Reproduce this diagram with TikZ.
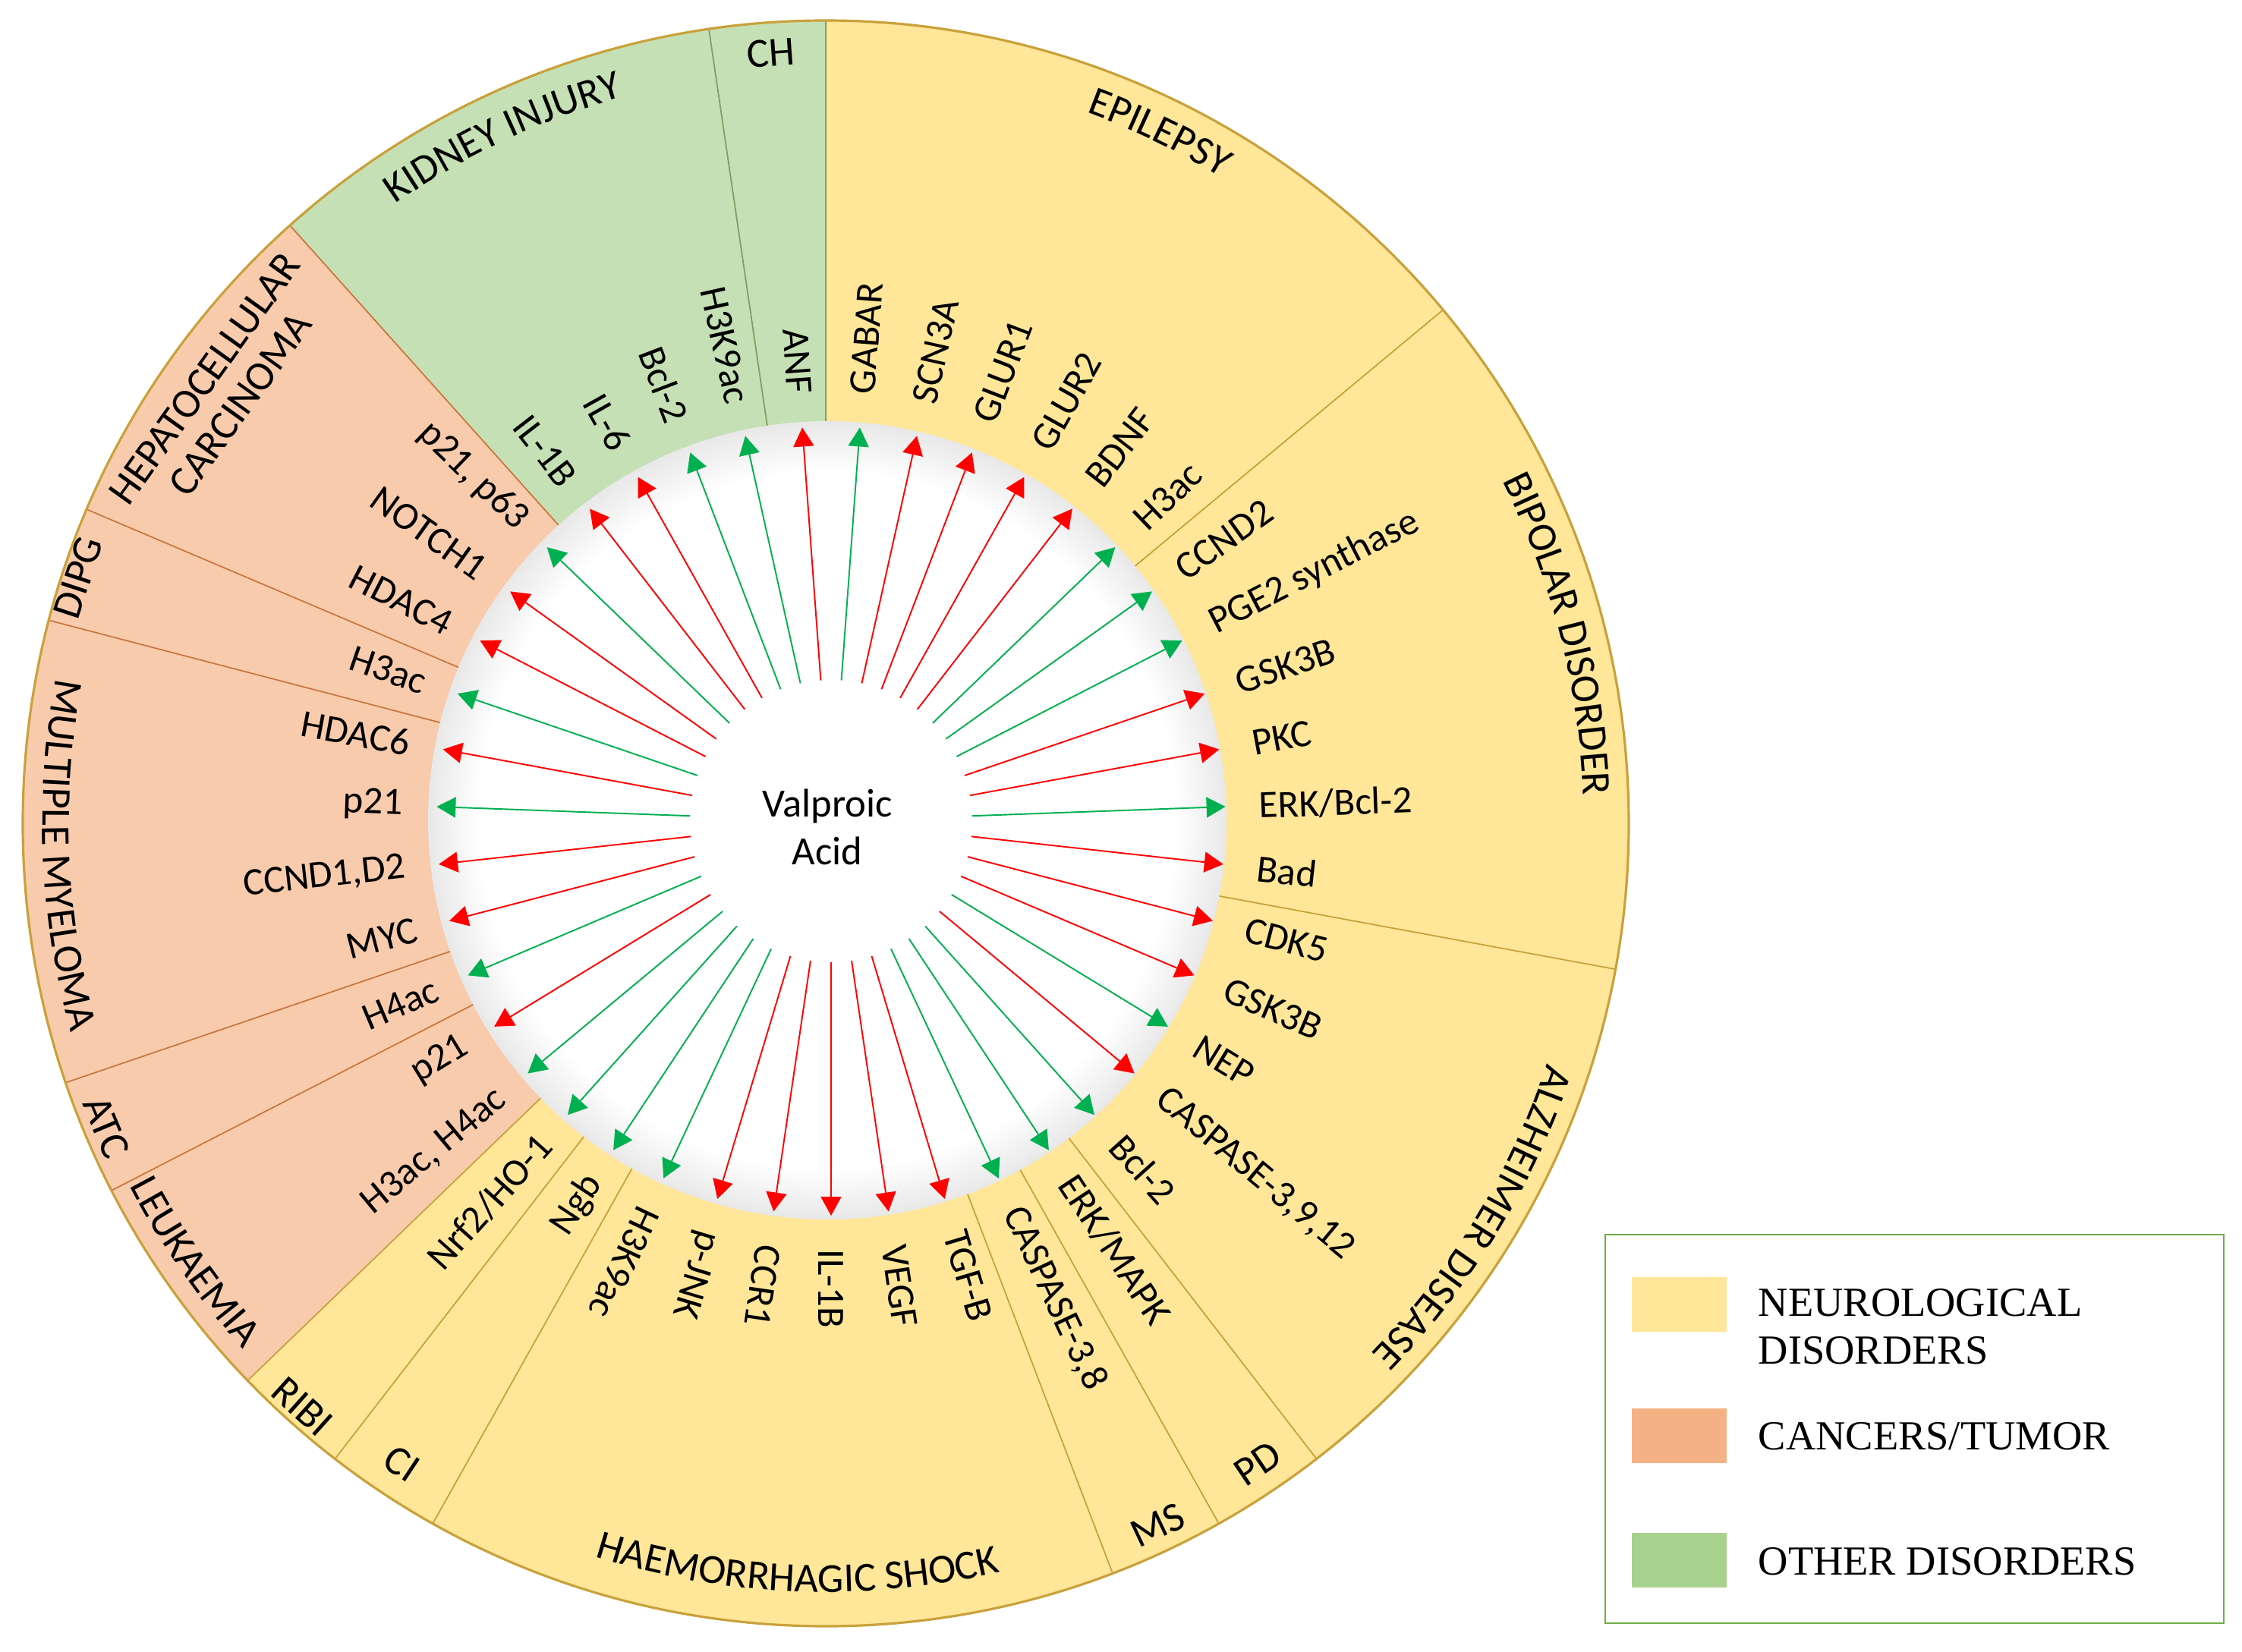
\documentclass[tikz,border=0pt]{standalone}
\usepackage{fontspec}
\setmainfont{Carlito}
\newfontfamily\legendfont{Liberation Serif}
\usetikzlibrary{arrows.meta,decorations.text}

\definecolor{neuro}{HTML}{FFE699}
\definecolor{cancer}{HTML}{F8CBAD}
\definecolor{other}{HTML}{C5E0B4}
\definecolor{neurokey}{HTML}{FFE699}
\definecolor{cancerkey}{HTML}{F4B183}
\definecolor{otherkey}{HTML}{A9D18E}
\definecolor{arrred}{HTML}{FF0000}
\definecolor{arrgreen}{HTML}{00B050}
\definecolor{goldline}{HTML}{C9A13B}
\definecolor{brownline}{HTML}{C8773F}
\definecolor{greenline}{HTML}{7E9F64}
\definecolor{keyframe}{HTML}{70AD47}

\pgfdeclareradialshading{hubglow}{\pgfpoint{0bp}{0bp}}{color(0bp)=(white); color(21.8bp)=(white); color(25bp)=(black!9); color(50bp)=(black!9)}

\newcommand{\genefont}{\fontsize{14.5}{17}\selectfont}
\newcommand{\ttlfont}{\fontsize{15.5}{16.5}\selectfont}

\tikzset{
    vpaarrow/.style={line width=0.55pt, -{Triangle[length=2.5mm,width=2.7mm]}},
    gene/.style={font=\genefont, inner sep=0pt},
    ttl/.style={font=\ttlfont, inner sep=0pt},
    ttlpath/.style={decorate, decoration={text along path, text align=center}},
    swatch/.style={minimum width=1.25cm, minimum height=0.72cm, inner sep=0pt},
    keytext/.style={font=\legendfont\fontsize{15.5}{18}\selectfont, anchor=west, align=left, inner sep=0pt}
}

\begin{document}
\begin{tikzpicture}
    \useasboundingbox (-10.88,-10.91) rectangle (18.66,10.85);

    \fill[neuro] (0,0) -- (-136.05:10.58) arc[start angle=-136.05, end angle=90, radius=10.58] -- cycle;
    \fill[other] (0,0) -- (90:10.58) arc[start angle=90, end angle=131.86, radius=10.58] -- cycle;
    \fill[cancer] (0,0) -- (131.86:10.58) arc[start angle=131.86, end angle=223.95, radius=10.58] -- cycle;

    \foreach \b/\c in {90/greenline, 39.76/goldline, -10.47/goldline, -52.33/goldline,
        -60.70/goldline, -69.07/goldline, -119.30/goldline, -127.67/goldline,
        -136.05/goldline, -152.79/brownline, -161.16/brownline, 165.35/brownline,
        156.98/brownline, 131.86/brownline, 98.37/greenline}
        \draw[\c, line width=0.5pt] (\b:5.2) -- (\b:10.58);

    \draw[goldline, line width=0.9pt] (0,0) circle[radius=10.58];
    \shade[shading=hubglow] (0.02,0.04) circle[radius=5.26];

    \coordinate (hub) at (0.07,0.03);
    \node[align=center, font=\fontsize{15}{18}\selectfont] (vpa) at (0.02,-0.05) {Valproic\\Acid};

    \foreach \gname/\gcol [count=\i from 0] in {GABAR/arrgreen, SCN3A/arrred, GLUR1/arrred,
        GLUR2/arrred, BDNF/arrred, H3ac/arrgreen, CCND2/arrgreen, {PGE2 synthase}/arrgreen,
        GSK3B/arrred, PKC/arrred, {ERK/Bcl-2}/arrgreen, Bad/arrred, CDK5/arrred,
        GSK3B/arrred, NEP/arrgreen, {CASPASE-3,9,12}/arrred, Bcl-2/arrgreen,
        {ERK/MAPK}/arrgreen, {CASPASE-3,8}/arrgreen, TGF-B/arrred, VEGF/arrred,
        IL-1B/arrred, CCR1/arrred, p-JNK/arrred, H3K9ac/arrgreen, Ngb/arrgreen,
        {Nrf2/HO-1}/arrgreen, {H3ac, H4ac}/arrgreen, p21/arrred, H4ac/arrgreen,
        MYC/arrred, {CCND1,D2}/arrred, p21/arrgreen, HDAC6/arrred, H3ac/arrgreen,
        HDAC4/arrred, NOTCH1/arrred, {p21, p63}/arrgreen, IL-1B/arrred, IL-6/arrred,
        Bcl-2/arrgreen, H3K9ac/arrgreen, ANF/arrred} {
        \pgfmathsetmacro{\ang}{85.814-\i*8.3721}
        \coordinate (s\i) at ([shift={(\ang:1.86)}]hub);
        \coordinate (t\i) at ([shift={(\ang:5.2)}]hub);
        \draw[vpaarrow, color=\gcol] (s\i) -- (t\i);
        \pgfmathtruncatemacro{\outward}{(\ang>-119.3)&&(\ang<98.4)}
        \ifnum\outward=1
            \node[gene, anchor=west, rotate=\ang] (g\i) at ([shift={(\ang:5.64)}]hub) {\gname};
        \else
            \node[gene, anchor=east, rotate=\ang+180] (g\i) at ([shift={(\ang:5.64)}]hub) {\gname};
        \fi
    }

    \path[ttlpath, decoration={text={|\ttlfont|KIDNEY INJURY}}] (140.2:9.94) arc[start angle=140.2, end angle=90.2, radius=9.94];
    \path[ttlpath, decoration={text={|\ttlfont|EPILEPSY}}] (89.2:9.98) arc[start angle=89.2, end angle=39.2, radius=9.98];
    \path[ttlpath, decoration={text={|\ttlfont|BIPOLAR DISORDER}}] (39.5:9.99) arc[start angle=39.5, end angle=-10.5, radius=9.99];
    \path[ttlpath, decoration={text={|\ttlfont|ALZHEIMER DISEASE}}] (-6.3:10.02) arc[start angle=-6.3, end angle=-56.3, radius=10.02];
    \path[ttlpath, decoration={text={|\ttlfont|HAEMORRHAGIC SHOCK}}] (-118.2:10.13) arc[start angle=-118.2, end angle=-66.2, radius=10.13];
    \path[ttlpath, decoration={text={|\ttlfont|LEUKAEMIA}}] (-170.2:10.34) arc[start angle=-170.2, end angle=-120.2, radius=10.34];
    \path[ttlpath, decoration={text={|\ttlfont|MULTIPLE MYELOMA}}] (157.4:10.32) arc[start angle=157.4, end angle=207.4, radius=10.32];

    \node[ttl, rotate=4.1] (ch) at (94.1:10.18) {CH};
    \node[ttl, rotate=54.4, align=center] (hcc) at (144.4:9.78) {HEPATOCELLULAR\\CARCINOMA};
    \node[ttl, rotate=71.8] (dipg) at (161.8:10.37) {DIPG};
    \node[ttl, rotate=-67.1] (atc) at (-157.1:10.29) {ATC};
    \node[ttl, rotate=-41.9] (ribi) at (-131.9:10.33) {RIBI};
    \node[ttl, rotate=-33.5] (ci) at (-123.5:10.12) {CI};
    \node[ttl, rotate=25.3] (ms) at (-64.7:10.23) {MS};
    \node[ttl, rotate=34] (pd) at (-56.0:10.18) {PD};

    \node[draw=keyframe, line width=0.8pt, minimum width=8.15cm, minimum height=5.12cm] (key) at (14.345,-7.98) {};
    \node[swatch, fill=neurokey] (kneuro) at (11.245,-6.34) {};
    \node[swatch, fill=cancerkey] (kcancer) at (11.245,-8.065) {};
    \node[swatch, fill=otherkey] (kother) at (11.245,-9.71) {};
    \node[keytext] (tneuro) at (12.28,-6.63) {NEUROLOGICAL\\DISORDERS};
    \node[keytext] (tcancer) at (12.28,-8.08) {CANCERS/TUMOR};
    \node[keytext] (tother) at (12.28,-9.73) {OTHER DISORDERS};
\end{tikzpicture}
\end{document}
